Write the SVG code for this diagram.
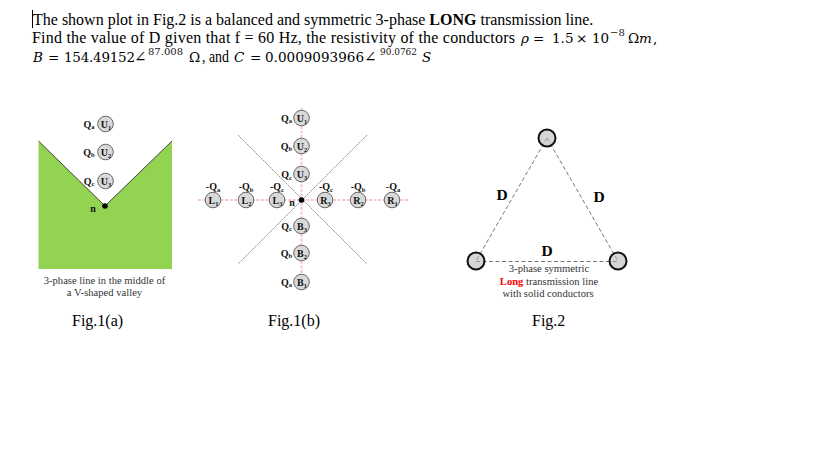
<svg xmlns="http://www.w3.org/2000/svg" width="819" height="460" viewBox="0 0 819 460">
<style>
text{font-family:"Liberation Serif","Times New Roman",serif;fill:#000}
.t{font-size:16px}
.m{font-family:"DejaVu Serif",serif;font-size:13.5px}
.mi{font-family:"DejaVu Serif",serif;font-size:13.5px;font-style:italic}
.ang{font-family:"DejaVu Serif",serif;font-size:15px}
.sup{font-family:"DejaVu Serif",serif;font-size:10px;fill:#111}
.q{font-size:10px;font-weight:bold;text-anchor:middle;fill:#111}
.q tspan{font-size:6.5px}
.nl{font-size:10px;font-weight:bold;text-anchor:middle;fill:#111}
.nl tspan{font-size:6.5px}
.cap{font-size:10.6px;text-anchor:middle;fill:#333}
.d{font-size:15.5px;font-weight:bold;text-anchor:middle}
.c{fill:#d9d9d9;stroke:#666;stroke-width:1}
.c2{fill:#b5b5b5;fill-opacity:.55;stroke:#111;stroke-width:2}
.pink{stroke:#f9c6cf;stroke-width:2;stroke-dasharray:3 1.5;fill:none}
.gray{stroke:#999;stroke-width:1;stroke-dasharray:2.500 .7;fill:none}
.gray2{stroke:#777;stroke-width:1;stroke-dasharray:4 2.500;fill:none}
</style>
<defs>
<circle id="cn" class="c" r="7.8"/>
</defs>
<rect width="819" height="460" fill="#fff"/>
<g id="question">
<line x1="32.5" y1="10" x2="32.5" y2="28" stroke="#000" stroke-width="1"/>
<text class="t" x="33" y="25">The shown plot in Fig.2 is a balanced and symmetric 3-phase <tspan font-weight="bold">LONG</tspan> transmission line.</text>
<text class="t" x="32" y="43" textLength="483">Find the value of D given that f = 60 Hz, the resistivity of the conductors</text>
<text class="mi" x="521" y="43">ρ</text>
<text class="m" x="533" y="43">=</text>
<text class="m" x="552" y="43">1.5</text>
<text class="m" x="576" y="43">×</text>
<text class="m" x="592" y="43">10</text>
<text class="sup" x="610" y="36">−8</text>
<text class="m" x="628" y="43">Ω</text><text class="mi" x="639" y="43">m</text><text class="m" x="653" y="43">,</text>
<text class="mi" x="33" y="62">B</text>
<text class="m" x="48" y="62">=</text>
<text class="m" x="64" y="62" textLength="71">154.49152</text>
<text class="ang" x="134" y="62">∠</text>
<text class="sup" x="148" y="55" textLength="35" lengthAdjust="spacingAndGlyphs">87.008</text>
<text class="m" x="189" y="62">Ω</text>
<text class="t" x="202" y="62" textLength="27" lengthAdjust="spacingAndGlyphs">, and</text>
<text class="mi" x="234" y="62">C</text>
<text class="m" x="250" y="62">=</text>
<text class="m" x="265" y="62" textLength="99">0.0009093966</text>
<text class="ang" x="364" y="62">∠</text>
<text class="sup" x="380" y="55" textLength="37" lengthAdjust="spacingAndGlyphs">90.0762</text>
<text class="mi" x="422" y="62">S</text>
</g>
<g id="fig1a">
<polygon points="38.5,141 105,206 172,141 172,269 38.5,269" fill="#92d351"/>
<polyline points="38.5,141 105,206 172,141" fill="none" stroke="#444" stroke-width="1"/>
<circle cx="105" cy="206" r="2.8" fill="#000"/>
<text class="nl" x="93" y="212">n</text>
<g id="a-u1"><use href="#cn" x="105.5" y="124"/><text class="nl" x="106" y="127.500">U<tspan dy="2">1</tspan></text><text class="q" x="89" y="127.500">Q<tspan dy="1.5">a</tspan></text></g>
<g id="a-u2"><use href="#cn" x="105.5" y="152"/><text class="nl" x="106" y="155.500">U<tspan dy="2">2</tspan></text><text class="q" x="89" y="155.500">Q<tspan dy="1.5">b</tspan></text></g>
<g id="a-u3"><use href="#cn" x="105.5" y="181"/><text class="nl" x="106" y="184.500">U<tspan dy="2">3</tspan></text><text class="q" x="89" y="184.500">Q<tspan dy="1.5">c</tspan></text></g>
<text class="cap" x="104.5" y="284">3-phase line in the middle of</text>
<text class="cap" x="104.5" y="296">a V-shaped valley</text>
<text class="t" x="72" y="326">Fig.1(a)</text>
</g>
<g id="connectors">
<line class="pink" x1="198" y1="200" x2="408" y2="200"/>
<line class="pink" x1="301.5" y1="108" x2="301.5" y2="290"/>
<line class="gray" x1="238" y1="135" x2="367" y2="264"/>
<line class="gray" x1="367" y1="135" x2="238" y2="264"/>
<line class="gray2" x1="547" y1="138" x2="476" y2="261"/>
<line class="gray2" x1="547" y1="138" x2="618" y2="261"/>
<line class="gray2" x1="476" y1="261.500" x2="618" y2="261.500"/>
</g>
<g id="fig1b">
<circle cx="301.500" cy="200" r="2.800" fill="#000"/>
<text class="nl" x="292" y="206">n</text>
<g id="b-u1"><use href="#cn" x="301.500" y="118"/><text class="nl" x="302" y="121.500">U<tspan dy="2">1</tspan></text><text class="q" x="286.500" y="121.500">Q<tspan dy="1.5">a</tspan></text></g>
<g id="b-u2"><use href="#cn" x="301.500" y="146"/><text class="nl" x="302" y="149.500">U<tspan dy="2">2</tspan></text><text class="q" x="286.500" y="149.500">Q<tspan dy="1.5">b</tspan></text></g>
<g id="b-u3"><use href="#cn" x="301.500" y="174"/><text class="nl" x="302" y="177.500">U<tspan dy="2">3</tspan></text><text class="q" x="286.500" y="178">Q<tspan dy="1.5">c</tspan></text></g>
<g id="b-b3"><use href="#cn" x="301.500" y="226"/><text class="nl" x="302" y="229.500">B<tspan dy="2">3</tspan></text><text class="q" x="286.500" y="229.500">Q<tspan dy="1.5">c</tspan></text></g>
<g id="b-b2"><use href="#cn" x="301.500" y="253"/><text class="nl" x="302" y="256.500">B<tspan dy="2">2</tspan></text><text class="q" x="286.500" y="256.500">Q<tspan dy="1.5">b</tspan></text></g>
<g id="b-b1"><use href="#cn" x="301.500" y="282"/><text class="nl" x="302" y="285.500">B<tspan dy="2">1</tspan></text><text class="q" x="286.500" y="285.500">Q<tspan dy="1.5">a</tspan></text></g>
<g id="b-l1"><use href="#cn" x="213" y="200"/><text class="nl" x="213.500" y="203.500">L<tspan dy="2">1</tspan></text><text class="q" x="213" y="190">-Q<tspan dy="1.5">a</tspan></text></g>
<g id="b-l2"><use href="#cn" x="246" y="200"/><text class="nl" x="246.500" y="203.500">L<tspan dy="2">2</tspan></text><text class="q" x="246" y="190">-Q<tspan dy="1.5">b</tspan></text></g>
<g id="b-l3"><use href="#cn" x="277" y="200"/><text class="nl" x="277.500" y="203.500">L<tspan dy="2">3</tspan></text><text class="q" x="277" y="190">-Q<tspan dy="1.5">c</tspan></text></g>
<g id="b-r3"><use href="#cn" x="325" y="200"/><text class="nl" x="325.500" y="203.500">R<tspan dy="2">3</tspan></text><text class="q" x="326" y="190">-Q<tspan dy="1.5">c</tspan></text></g>
<g id="b-r2"><use href="#cn" x="358" y="200"/><text class="nl" x="358.500" y="203.500">R<tspan dy="2">2</tspan></text><text class="q" x="358" y="190">-Q<tspan dy="1.5">b</tspan></text></g>
<g id="b-r1"><use href="#cn" x="392" y="200"/><text class="nl" x="392.500" y="203.500">R<tspan dy="2">1</tspan></text><text class="q" x="393" y="190">-Q<tspan dy="1.5">a</tspan></text></g>
<text class="t" x="268" y="326">Fig.1(b)</text>
</g>
<g id="fig2">
<g id="n-top"><circle class="c2" cx="547" cy="138" r="8.500"/></g>
<g id="n-left"><circle class="c2" cx="476" cy="261" r="8.500"/></g>
<g id="n-right"><circle class="c2" cx="618" cy="261" r="8.500"/></g>
<text class="d" x="502" y="200">D</text>
<text class="d" x="599" y="202">D</text>
<text class="d" x="547" y="256">D</text>
<text class="cap" x="549" y="272">3-phase symmetric</text>
<text class="cap" x="549" y="285"><tspan fill="#f00" font-weight="bold">Long</tspan> transmission line</text>
<text class="cap" x="548" y="297">with solid conductors</text>
<text class="t" x="532" y="326">Fig.2</text>
</g>
</svg>
